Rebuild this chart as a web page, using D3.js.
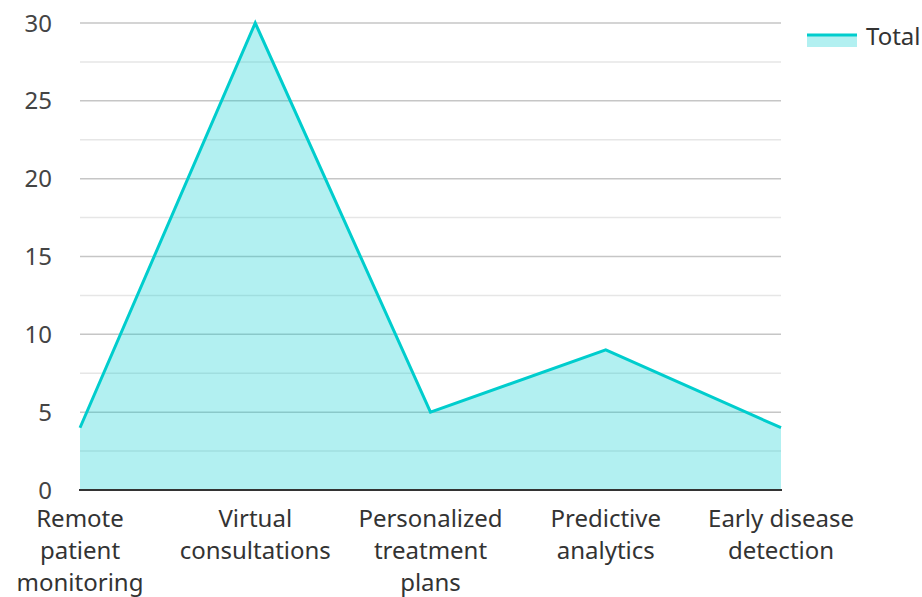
<!DOCTYPE html>
<html><head><meta charset="utf-8">
<script src="https://cdn.jsdelivr.net/npm/d3@7"></script>
<style>body{margin:0;background:#fff}svg{display:block}</style>
</head><body>
<svg id="c" width="922" height="597"></svg>
<script>
const categories = [["Remote","patient","monitoring"],["Virtual","consultations"],["Personalized","treatment","plans"],["Predictive","analytics"],["Early disease","detection"]];
const values = [4, 30, 5, 9, 4];
const yTicks = [0, 5, 10, 15, 20, 25, 30];
const minorTicks = [2.5, 7.5, 12.5, 17.5, 22.5, 27.5];
const seriesName = "Total";

const svg = d3.select("#c");
const font = "'Noto Sans', 'Open Sans', sans-serif";
const fs = 24;
const x = d3.scalePoint().domain(d3.range(categories.length)).range([80, 781]);
const y = d3.scaleLinear().domain([0, 30]).range([490, 23]);

svg.append("g").selectAll("line").data(minorTicks).join("line")
  .attr("x1", 80).attr("x2", 781).attr("y1", d => y(d)).attr("y2", d => y(d))
  .attr("stroke", "#e6e6e6").attr("stroke-width", 1.5);
svg.append("g").selectAll("line").data(yTicks.filter(d => d > 0)).join("line")
  .attr("x1", 80).attr("x2", 781).attr("y1", d => y(d)).attr("y2", d => y(d))
  .attr("stroke", "#c6c6c6").attr("stroke-width", 1.5);

const area = d3.area().x((d, i) => x(i)).y0(y(0)).y1(d => y(d));
const line = d3.line().x((d, i) => x(i)).y(d => y(d));
svg.append("path").datum(values).attr("d", area).attr("fill", "rgb(0,206,209)").attr("fill-opacity", 0.3);
svg.append("path").datum(values).attr("d", line).attr("fill", "none").attr("stroke", "#00cdcd").attr("stroke-width", 3).attr("stroke-linejoin", "miter");

svg.append("line").attr("x1", 79).attr("x2", 782).attr("y1", y(0)).attr("y2", y(0)).attr("stroke", "#333").attr("stroke-width", 2);

svg.append("g").selectAll("text").data(yTicks).join("text")
  .attr("x", 52).attr("y", d => y(d)).attr("dy", "0.36em").attr("text-anchor", "end")
  .attr("font-family", font).attr("font-size", fs).attr("fill", "#444").text(d => d);

const xl = svg.append("g").selectAll("text").data(categories).join("text")
  .attr("x", (d, i) => x(i)).attr("y", 527).attr("text-anchor", "middle")
  .attr("font-family", font).attr("font-size", fs).attr("fill", "#333");
xl.selectAll("tspan").data(d => d).join("tspan")
  .attr("x", function() { return d3.select(this.parentNode).attr("x"); })
  .attr("dy", (d, i) => i === 0 ? 0 : 32).text(d => d);

const lg = svg.append("g");
lg.append("rect").attr("x", 807).attr("y", 36).attr("width", 50).attr("height", 11).attr("fill", "rgb(0,206,209)").attr("fill-opacity", 0.3);
lg.append("line").attr("x1", 807).attr("x2", 857).attr("y1", 35).attr("y2", 35).attr("stroke", "#00cdcd").attr("stroke-width", 3);
lg.append("text").attr("x", 866).attr("y", 36).attr("dy", "0.36em").attr("font-family", font).attr("font-size", fs).attr("fill", "#333").text(seriesName);
</script>
</body></html>
